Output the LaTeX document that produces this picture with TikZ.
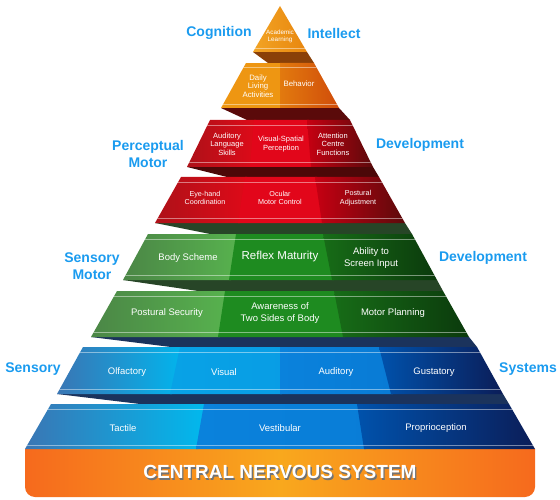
\documentclass[tikz,border=0pt]{standalone}
\usepackage{fontspec}
\setmainfont{Liberation Sans}
\definecolor{side_blue}{HTML}{1A9BEF}
\definecolor{or_a}{HTML}{F2A424}
\definecolor{or_b}{HTML}{E8860E}
\definecolor{or_c}{HTML}{EE9612}
\definecolor{or_d}{HTML}{E27A0E}
\definecolor{or_e}{HTML}{D04C0A}
\definecolor{rd_a}{HTML}{AE1118}
\definecolor{rd_b}{HTML}{DE0A18}
\definecolor{rd_c}{HTML}{E2061A}
\definecolor{rd_d}{HTML}{C60012}
\definecolor{rd_e}{HTML}{5C0A0B}
\definecolor{gr_a}{HTML}{4B8646}
\definecolor{gr_b}{HTML}{57B24E}
\definecolor{gr_c}{HTML}{1E8B20}
\definecolor{gr_d}{HTML}{176C17}
\definecolor{gr_e}{HTML}{0B3A0C}
\definecolor{bl_a}{HTML}{3A76B4}
\definecolor{bl_b}{HTML}{00B9EE}
\definecolor{bl_c}{HTML}{08A2E6}
\definecolor{bl_d}{HTML}{0A82DC}
\definecolor{bl_e}{HTML}{0052AC}
\definecolor{bl_f}{HTML}{0B1D58}
\definecolor{bd_or}{HTML}{8A4008}
\definecolor{bd_rd}{HTML}{5A0A0A}
\definecolor{bd_gr}{HTML}{274527}
\definecolor{bd_bl}{HTML}{1B335C}
\definecolor{cns_a}{HTML}{F66A1D}
\definecolor{cns_b}{HTML}{F9A81D}
\tikzset{
  tier_txt/.style = {align=center, inner sep=1pt, text=white,
    font=\fontsize{9.5}{12.5}\selectfont},
  tier_sm/.style = {tier_txt, font=\fontsize{7.5}{8.4}\selectfont},% red and orange tiers
  tier_xs/.style = {tier_txt, font=\fontsize{6.3}{7.2}\selectfont},% top of the pyramid
  side_lbl/.style = {align=center, inner sep=0pt, text=side_blue,
    font=\bfseries\fontsize{14}{16.5}\selectfont},
  cns_txt/.style = {inner sep=0pt, text=white,
    font=\bfseries\fontsize{19}{22}\selectfont},
  glint/.style = {white, opacity=0.45, line width=0.7pt}
}

\begin{document}
\begin{tikzpicture}[x=1pt, y=-1pt]
  \useasboundingbox (0,0) rectangle (560,500);

  % back faces between the tiers
  \fill[bd_or] (253,52) -- (307,52) -- (314,63) -- (268,63) -- cycle;
  \fill[bd_rd] (221,108) -- (339,108) -- (350,120) -- (247,120) -- cycle;
  \fill[bd_rd!85!black] (187,167) -- (373,167) -- (379,177) -- (227,177) -- cycle;
  \fill[bd_gr] (155,223) -- (405,223) -- (412,234) -- (210,234) -- cycle;
  \fill[bd_gr] (123,280) -- (437,280) -- (443,291) -- (198,291) -- cycle;
  \fill[bd_bl] (91,337) -- (469,337) -- (477,347) -- (171,347) -- cycle;
  \fill[bd_bl] (57,394) -- (503,394) -- (509,404) -- (140,404) -- cycle;

  % base
  \begin{scope}
    \clip (25,449) rectangle (535,500);
    \shade[left color=cns_a, right color=cns_a, middle color=cns_b,
      rounded corners=10pt] (25,430) rectangle (535,497);
  \end{scope}

  % tier 1
  \begin{scope}
    \clip (280,6) -- (307,52) -- (253,52) -- cycle;
    \shade[left color=or_a, right color=or_b] (253,0) rectangle (307,52);
    \draw[glint] (240,48.5) -- (320,48.5);
  \end{scope}

  % tier 2
  \begin{scope}
    \clip (246,63) -- (314,63) -- (339,108) -- (221,108) -- cycle;
    \fill[or_c] (221,63) rectangle (282,108);
    \shade[left color=or_d, right color=or_e] (280,63) rectangle (339,108);
    \draw[glint] (200,67) -- (360,67) (200,104) -- (360,104);
  \end{scope}

  % tier 3
  \begin{scope}
    \clip (210,120) -- (350,120) -- (373,167) -- (187,167) -- cycle;
    \shade[left color=rd_a, right color=rd_b] (187,120) -- (256,120) -- (252,167) -- (187,167) -- cycle;
    \fill[rd_c] (254,120) -- (309,120) -- (313,167) -- (250,167) -- cycle;
    \shade[left color=rd_d, right color=rd_e] (307,120) -- (373,120) -- (373,167) -- (311,167) -- cycle;
    \draw[glint] (180,125) -- (380,125) (180,162) -- (380,162);
  \end{scope}

  % tier 4
  \begin{scope}
    \clip (181,177) -- (379,177) -- (405,223) -- (155,223) -- cycle;
    \shade[left color=rd_a, right color=rd_b] (155,177) -- (247,177) -- (240,223) -- (155,223) -- cycle;
    \fill[rd_c] (245,177) -- (317,177) -- (324,223) -- (238,223) -- cycle;
    \shade[left color=rd_d, right color=rd_e] (315,177) -- (405,177) -- (405,223) -- (322,223) -- cycle;
    \draw[glint] (150,182) -- (410,182) (150,218) -- (410,218);
  \end{scope}

  % tier 5
  \begin{scope}
    \clip (148,234) -- (412,234) -- (437,280) -- (123,280) -- cycle;
    \shade[left color=gr_a, right color=gr_b] (123,234) -- (238,234) -- (231,280) -- (123,280) -- cycle;
    \fill[gr_c] (236,234) -- (325,234) -- (334,280) -- (229,280) -- cycle;
    \shade[left color=gr_d, right color=gr_e] (323,234) -- (437,234) -- (437,280) -- (332,280) -- cycle;
    \draw[glint] (110,239) -- (450,239) (110,275) -- (450,275);
  \end{scope}

  % tier 6
  \begin{scope}
    \clip (117,291) -- (443,291) -- (469,337) -- (91,337) -- cycle;
    \shade[left color=gr_a, right color=gr_b] (91,291) -- (227,291) -- (220,337) -- (91,337) -- cycle;
    \fill[gr_c] (225,291) -- (336,291) -- (345,337) -- (218,337) -- cycle;
    \shade[left color=gr_d, right color=gr_e] (334,291) -- (469,291) -- (469,337) -- (343,337) -- cycle;
    \draw[glint] (80,296) -- (480,296) (80,332) -- (480,332);
  \end{scope}

  % tier 7
  \begin{scope}
    \clip (83,347) -- (477,347) -- (503,394) -- (57,394) -- cycle;
    \shade[left color=bl_a, right color=bl_b!80!bl_c] (57,347) -- (182,347) -- (172,394) -- (57,394) -- cycle;
    \shade[left color=bl_c, right color=bl_c!85!bl_d] (180,347) -- (282,347) -- (282,394) -- (170,394) -- cycle;
    \shade[left color=bl_d, right color=bl_d!85!bl_e] (280,347) -- (381,347) -- (393,394) -- (280,394) -- cycle;
    \shade[left color=bl_e, right color=bl_f] (379,347) -- (503,347) -- (503,394) -- (391,394) -- cycle;
    \draw[glint] (40,352) -- (520,352) (40,389) -- (520,389);
  \end{scope}

  % tier 8
  \begin{scope}
    \clip (51,404) -- (509,404) -- (535,449) -- (25,449) -- cycle;
    \shade[left color=bl_a, right color=bl_b] (25,404) -- (206,404) -- (198,449) -- (25,449) -- cycle;
    \shade[left color=bl_d, right color=bl_d!90!bl_e] (204,404) -- (359,404) -- (366,449) -- (196,449) -- cycle;
    \shade[left color=bl_e, right color=bl_f] (357,404) -- (535,404) -- (535,449) -- (364,449) -- cycle;
    \draw[glint] (10,409) -- (550,409) (10,445) -- (550,445);
  \end{scope}

  % texts in the tiers
  \node[tier_xs] (acad) at (280,36) {Academic\\Learning};
  \node[tier_sm, font=\fontsize{7.8}{8.7}\selectfont] (daily) at (258,86) {Daily\\Living\\Activities};
  \node[tier_sm, font=\fontsize{7.8}{8.7}\selectfont] (behav) at (299,84) {Behavior};
  \node[tier_sm] (audit) at (227,144) {Auditory\\Language\\Skills};
  \node[tier_sm] (vispat) at (281,144) {Visual-Spatial\\Perception};
  \node[tier_sm] (attn) at (333,144) {Attention\\Centre\\Functions};
  \node[tier_sm, font=\fontsize{7.2}{8.3}\selectfont] (eyehand) at (205,198) {Eye-hand\\Coordination};
  \node[tier_sm, font=\fontsize{7.2}{8.3}\selectfont] (ocular) at (280,198) {Ocular\\Motor Control};
  \node[tier_sm, font=\fontsize{7.2}{8.3}\selectfont] (postadj) at (358,198) {Postural\\Adjustment};
  \node[tier_txt] (bodysch) at (188,258) {Body Scheme};
  \node[tier_txt, font=\fontsize{11.5}{13}\selectfont] (reflex) at (280,257) {Reflex Maturity};
  \node[tier_txt] (screen) at (371,258) {Ability to\\Screen Input};
  \node[tier_txt] (postsec) at (167,313) {Postural Security};
  \node[tier_txt] (twosides) at (280,313) {Awareness of\\Two Sides of Body};
  \node[tier_txt] (motorpl) at (393,313) {Motor Planning};
  \node[tier_txt] (olfac) at (127,372) {Olfactory};
  \node[tier_txt] (visual) at (224,372) {Visual};
  \node[tier_txt] (auditory) at (336,372) {Auditory};
  \node[tier_txt] (gustat) at (434,372) {Gustatory};
  \node[tier_txt] (tactile) at (123,428) {Tactile};
  \node[tier_txt] (vestib) at (280,428) {Vestibular};
  \node[tier_txt] (propr) at (436,428) {Proprioception};
  \node[cns_txt] (cns) at (280,473)
    {\rlap{\kern1.3pt\raisebox{-1.3pt}{\textcolor{black!55}{CENTRAL NERVOUS SYSTEM}}}CENTRAL NERVOUS SYSTEM};

  % labels on the sides
  \node[side_lbl] (lbl_cog) at (219,33) {Cognition};
  \node[side_lbl] (lbl_int) at (334,33) {Intellect};
  \node[side_lbl] (lbl_pm) at (148,154) {Perceptual\\Motor};
  \node[side_lbl] (lbl_pdev) at (420,145) {Development};
  \node[side_lbl] (lbl_sm) at (92,266) {Sensory\\Motor};
  \node[side_lbl] (lbl_sdev) at (483,258) {Development};
  \node[side_lbl] (lbl_sens) at (33,369) {Sensory};
  \node[side_lbl] (lbl_sys) at (528,369) {Systems};
\end{tikzpicture}
\end{document}
